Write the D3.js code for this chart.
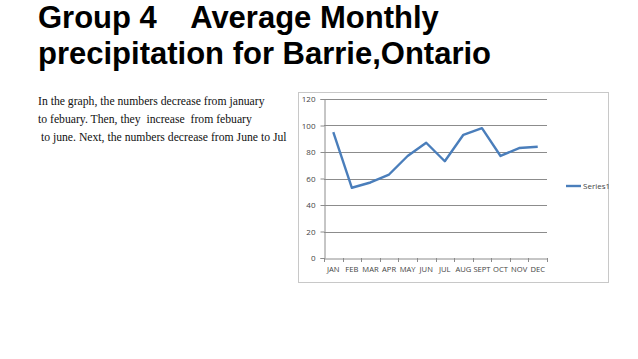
<!doctype html>
<html lang="en">
<head>
<meta charset="utf-8">
<title>Barrie precipitation</title>
<style>
  body { margin: 0; background: #fff; }
  svg { display: block; }
</style>
</head>
<body>
<script src="https://d3js.org/d3.v7.min.js"></script>
<script>
var months = ["JAN", "FEB", "MAR", "APR", "MAY", "JUN", "JUL", "AUG", "SEPT", "OCT", "NOV", "DEC"];
var precip = [95, 53, 57, 63, 77, 87, 73, 93, 98, 77, 83, 84];
var yTicks = [0, 20, 40, 60, 80, 100, 120];
var titleLines = ["Group 4    Average Monthly", "precipitation for Barrie,Ontario"];
var noteLines = ["In the graph, the numbers decrease from january",
                 "to febuary. Then, they  increase  from febuary",
                 " to june. Next, the numbers decrease from June to Jul"];

var svg = d3.select("body").append("svg")
    .attr("width", 638)
    .attr("height", 359);

// slide title
svg.selectAll("text.title")
    .data(titleLines)
    .enter().append("text")
    .attr("class", "title")
    .attr("x", 38)
    .attr("y", function(d, i) { return 28 + i * 36; })
    .attr("font-family", "Liberation Sans, Arial, sans-serif")
    .attr("font-weight", "bold")
    .attr("font-size", 31)
    .attr("fill", "#000")
    .style("white-space", "pre")
    .text(function(d) { return d; });

// note text
svg.selectAll("text.note")
    .data(noteLines)
    .enter().append("text")
    .attr("class", "note")
    .attr("x", 38)
    .attr("y", function(d, i) { return 105 + i * 18; })
    .attr("font-family", "Liberation Serif, serif")
    .attr("font-size", 11.7)
    .attr("fill", "#111")
    .style("white-space", "pre")
    .text(function(d) { return d; });

// chart frame
svg.append("rect")
    .attr("x", 298.5).attr("y", 92.5)
    .attr("width", 310).attr("height", 190)
    .attr("fill", "#fff")
    .attr("stroke", "#c8c8c8");

var margin = {left: 324, top: 99},
    width = 223,
    height = 159;

var g = svg.append("g")
    .attr("transform", "translate(" + margin.left + "," + margin.top + ")");

var x = d3.scaleBand().domain(months).range([0, width]);
var y = d3.scaleLinear().domain([0, 120]).range([height, 0]);

// gridlines
g.selectAll("line.grid")
    .data(yTicks.filter(function(d) { return d > 0; }))
    .enter().append("line")
    .attr("class", "grid")
    .attr("x1", 0).attr("x2", width)
    .attr("y1", function(d) { return Math.round(y(d)) + 0.5; })
    .attr("y2", function(d) { return Math.round(y(d)) + 0.5; })
    .attr("stroke", "#8c8c8c");

var yAxis = g.append("g")
    .attr("transform", "translate(0.5,0)")
    .call(d3.axisLeft(y).tickValues(yTicks).tickSize(4).tickPadding(5));
yAxis.select(".domain").attr("stroke", "#8c8c8c");
yAxis.selectAll(".tick line").attr("stroke", "#8c8c8c");
yAxis.selectAll(".tick text")
    .attr("font-family", "Open Sans, Liberation Sans, sans-serif")
    .attr("font-size", 8)
    .attr("fill", "#444");

var xAxis = g.append("g")
    .attr("transform", "translate(0," + (height + 0.5) + ")")
    .call(d3.axisBottom(x).tickSize(0).tickPadding(8));
xAxis.select(".domain").attr("stroke", "#8c8c8c");
xAxis.selectAll(".tick text")
    .attr("font-family", "Open Sans, Liberation Sans, sans-serif")
    .attr("font-size", 7.6)
    .attr("fill", "#444");

// category separators on the x axis
g.selectAll("line.sep")
    .data(months.concat(["end"]))
    .enter().append("line")
    .attr("class", "sep")
    .attr("x1", function(d, i) { return Math.round(i * x.step()) + 0.5; })
    .attr("x2", function(d, i) { return Math.round(i * x.step()) + 0.5; })
    .attr("y1", height).attr("y2", height + 4)
    .attr("stroke", "#8c8c8c");

var line = d3.line()
    .x(function(d, i) { return x(months[i]) + x.bandwidth() / 2; })
    .y(function(d) { return y(d); });

g.append("path")
    .datum(precip)
    .attr("d", line)
    .attr("fill", "none")
    .attr("stroke", "#4a7ebb")
    .attr("stroke-width", 2.4)
    .attr("stroke-linejoin", "round");

// legend
var legend = svg.append("g").attr("transform", "translate(566,186)");
legend.append("line")
    .attr("x1", 0).attr("x2", 15)
    .attr("stroke", "#4a7ebb").attr("stroke-width", 2.4);
legend.append("text")
    .attr("x", 17).attr("y", 3)
    .attr("font-family", "Open Sans, Liberation Sans, sans-serif")
    .attr("font-size", 8)
    .attr("fill", "#444")
    .text("Series1");
</script>
</body>
</html>
